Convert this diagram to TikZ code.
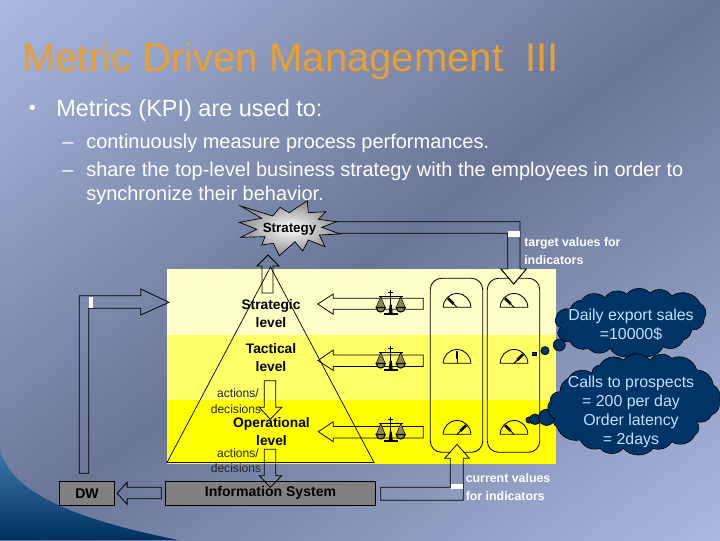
\documentclass[tikz,border=0pt]{standalone}
\usepackage{fontspec}
\usepackage{tikz}
\usetikzlibrary{calc}
\setmainfont{Liberation Sans}

\definecolor{bglight}{HTML}{A9B9E3}
\definecolor{bgdark}{HTML}{6A7596}
\definecolor{swooshtop}{HTML}{3F78AC}
\definecolor{swooshlow}{HTML}{00305F}
\definecolor{titleorange}{HTML}{E9A02E}
\definecolor{bandone}{HTML}{FFFFC8}
\definecolor{bandtwo}{HTML}{FFFF66}
\definecolor{bandthree}{HTML}{FFFF00}
\definecolor{cloudblue}{HTML}{003366}
\definecolor{cloudtext}{HTML}{C4E0FF}
\definecolor{panbrown}{HTML}{8C8A50}

\tikzset{
    blockarrow/.style={draw=black, line width=0.55pt, line join=miter},
    bodytext/.style={anchor=base west, text=white, inner sep=0pt},
    leveltext/.style={align=center, inner sep=0pt, font=\fontsize{9.8}{12.2}\selectfont\bfseries},
    decisiontext/.style={align=center, inner sep=0pt, text=black!85, font=\fontsize{8.6}{11}\selectfont},
    grapbox/.style={draw=black, fill=black!50, line width=0.6pt, inner sep=0pt, minimum height=0.6cm, font=\fontsize{10}{12}\selectfont\bfseries},
    notetext/.style={anchor=west, align=left, inner sep=0pt, text=white, font=\fontsize{8.8}{12.8}\selectfont\bfseries},
    cloudtxt/.style={align=center, inner sep=0pt, text=cloudtext},
    thought/.style={draw=black, fill=cloudblue, line width=0.4pt},
    whitepatch/.style={fill=white}
}

\newcommand{\balance}[2]{
    \begin{scope}[shift={(#1,#2)}]
        \fill[panbrown] (-10,-6) -- (-14.5,5) -- (-5.5,5) -- cycle (10,-6) -- (14.5,5) -- (5.5,5) -- cycle;
        \draw[line width=1pt] (-12,-6) -- (12,-6);
        \draw[line width=1.1pt] (0,-13) -- (0,11);
        \draw[line width=0.7pt] (-2.5,-10.5) -- (2.5,-10.5);
        \fill (-7,12.5) rectangle (7,10.5);
        \fill (-2,11) -- (-1,2) -- (1,2) -- (2,11) -- cycle;
        \draw[line width=0.4pt] (-10,-6) -- (-14.5,5) (-10,-6) -- (-5.5,5) (10,-6) -- (14.5,5) (10,-6) -- (5.5,5);
        \draw[fill=panbrown, line width=0.8pt] (-14.5,5) .. controls (-14,11) and (-6,11) .. (-5.5,5) -- cycle;
        \draw[fill=panbrown, line width=0.8pt] (5.5,5) .. controls (6,11) and (14,11) .. (14.5,5) -- cycle;
    \end{scope}
}

\begin{document}
\begin{tikzpicture}[x=0.025cm, y=-0.025cm]
    \useasboundingbox (0,0) rectangle (720,540);
    % diagonal background, strip by strip
    \clip (0,0) rectangle (720,540);
    \foreach \i in {0,...,143} {
        \pgfmathsetmacro{\mixval}{100*abs(\i+0.5-72)/72}
        \colorlet{stripcol}{bglight!\mixval!bgdark}
        \fill[stripcol] ($(360,270)+(-864*0.8,{(\i*6-432)*0.8})+({(\i*6-432)*0.6},864*0.6)$)
            -- ($(360,270)+(864*0.8,{(\i*6-432)*0.8})+({(\i*6-432)*0.6},-864*0.6)$)
            -- ($(360,270)+(864*0.8,{(\i*6-432+7)*0.8})+({(\i*6-432+7)*0.6},-864*0.6)$)
            -- ($(360,270)+(-864*0.8,{(\i*6-432+7)*0.8})+({(\i*6-432+7)*0.6},864*0.6)$) -- cycle;
    }
    \shade[top color=swooshtop, bottom color=swooshlow] (0,450) .. controls (12,495) and (80,520) .. (178,540) -- (0,540) -- cycle;

    % title and bullets
    \node[bodytext, text=titleorange, font=\fontsize{28.5}{32}\selectfont] (title) at (22,71.5) {Metric Driven Management\ \ III};
    \node[bodytext, font=\fontsize{14}{16}\selectfont] (bullet) at (28.5,114.5) {•};
    \node[bodytext, font=\fontsize{16.7}{20}\selectfont] (metrics) at (56,116.5) {Metrics (KPI) are used to:};
    \node[bodytext, font=\fontsize{14.2}{17}\selectfont] (dashone) at (62,148) {–};
    \node[bodytext, font=\fontsize{14.2}{17}\selectfont] (lineone) at (86,148) {continuously measure process performances.};
    \node[bodytext, font=\fontsize{14.2}{17}\selectfont] (dashtwo) at (62,176) {–};
    \node[bodytext, font=\fontsize{14.2}{17}\selectfont] (linetwo) at (86,176) {share the top-level business strategy with the employees in order to};
    \node[bodytext, font=\fontsize{14.2}{17}\selectfont] (linethree) at (86,200) {synchronize their behavior.};

    % levels
    \fill[bandone] (167,269) rectangle (556,335);
    \fill[bandtwo] (167,335) rectangle (556,400);
    \fill[bandthree] (167,400) rectangle (556,464);
    \draw[line width=0.5pt] (270.5,267) -- (374,462.5) -- (167,462.5) -- cycle;

    % indicator columns
    \draw[line width=0.6pt, rounded corners=0.28cm] (430.3,278.3) rectangle (482.7,452.3);
    \draw[line width=0.6pt, rounded corners=0.28cm] (487.3,278.3) rectangle (539.7,452.3);
    \foreach \gx/\gy/\ga in {457/307.3/135, 514/307.3/135, 457/363.3/90, 514/363.3/45, 457/434.3/45, 514/434.3/135} {
        \draw[line width=0.6pt] (\gx-13.8,\gy) arc[start angle=180, end angle=0, radius=0.345cm] -- cycle;
        \draw[line width=0.7pt] (\gx,\gy) -- ++(\ga:0.29cm);
        \draw[line width=1.9pt] (\gx,\gy) ++(\ga:0.12cm) -- ++(\ga:0.2cm);
    }

    % block arrows
    \draw[blockarrow] (262,293) -- (262,266) -- (257,266) -- (268,255) -- (279,266) -- (273,266) -- (273,293) -- cycle;
    \draw[blockarrow] (79.3,473.3) -- (79.3,295.7) -- (140.7,295.7) -- (140.7,289) -- (169,302.3) -- (140.7,315) -- (140.7,308.3) -- (88.7,308.3) -- (88.7,473.3) -- cycle;
    \fill[whitepatch] (88.5,297) rectangle (93,308);
    \draw[blockarrow] (423.3,298.3) -- (333.3,298.3) -- (333.3,294) -- (317.7,304) -- (333.3,314.3) -- (333.3,309.3) -- (423.3,309.3) -- cycle;
    \draw[blockarrow] (423.3,355) -- (333.3,355) -- (333.3,350) -- (318,360.5) -- (333.3,370.5) -- (333.3,366.5) -- (423.3,366.5) -- cycle;
    \draw[blockarrow] (423.3,426.5) -- (333.3,426.5) -- (333.3,421.7) -- (318.3,431.7) -- (333.3,441.7) -- (333.3,438) -- (423.3,438) -- cycle;
    \draw[blockarrow] (264.3,380.7) -- (264.3,407.3) -- (259.3,407.3) -- (270.3,419.3) -- (281.7,407.3) -- (275.7,407.3) -- (275.7,380.7) -- cycle;

    \balance{390.7}{302.5}
    \balance{390.7}{358.5}
    \balance{390.7}{429.5}

    % boxes below
    \node[grapbox, minimum width=1.385cm] (dw) at (87,493.3) {DW};
    \node[grapbox, minimum width=5.26cm] (infosys) at (270.5,493.3) {Information System};
    \draw[blockarrow] ($(infosys.west)+(-3.6,-6)$) -- ($(dw.east)+(12,-6)$) -- ($(dw.east)+(12,-11)$) -- ($(dw.east)+(2,0)$) -- ($(dw.east)+(12,11)$) -- ($(dw.east)+(12,5.5)$) -- ($(infosys.west)+(-3.6,5.5)$) -- cycle;
    \draw[blockarrow] (264.3,449.3) -- (264.3,475.7) -- (259.3,475.7) -- (270.3,487.3) -- (281.7,475.7) -- (275.7,475.7) -- (275.7,449.3) -- cycle;

    % strategy star
    \path[draw=black, line width=0.5pt, inner color=white, outer color=black!45]
        (240.7,206) -- (272.7,216) -- (280,207.3) -- (289.3,212.7) -- (307.3,200.7) -- (308.3,212.7)
        -- (326,211.7) -- (318.3,219.3) -- (336.7,221.7) -- (321.7,227.3) -- (340,234) -- (319.3,235)
        -- (325,246.7) -- (308.3,240) -- (302.7,251) -- (295,241.7) -- (279.3,255.7) -- (273.3,243.3)
        -- (261.7,245) -- (265,236.7) -- (240.7,237.3) -- (256.7,229.3) -- (239.3,222.3) -- (261.7,218.3) -- cycle;
    \node[leveltext, font=\fontsize{9.5}{12}\selectfont\bfseries] (strategy) at (289.5,229) {Strategy};

    % target and current arrows
    \draw[blockarrow] (336,221.7) -- (520,221.7) -- (520,269) -- (526.3,269) -- (513.7,284) -- (501,269) -- (507.7,269) -- (507.7,233.3) -- (338,233.3);
    \fill[bandone] (502.5,269.6) -- (525,269.6) -- (513.7,283) -- cycle;
    \draw[blockarrow] (501,269) -- (513.7,284) -- (526.3,269);
    \fill[whitepatch] (507.9,231) rectangle (520,236.5);
    \fill[bandthree] (446,457.8) -- (468,457.8) -- (457,445) -- cycle;
    \draw[blockarrow] (380.7,487.3) -- (450.3,487.3) -- (450.3,458.3) -- (444.7,458.3) -- (457,444.3) -- (469.3,458.3) -- (463.3,458.3) -- (463.3,500.3) -- (380.7,500.3) -- cycle;
    \fill[whitepatch] (450.7,484) rectangle (463.3,489.3);
    \node[notetext] (target) at (524,251) {target values for\\indicators};
    \node[notetext] (current) at (465.5,487.5) {current values\\for indicators};

    % labels on the pyramid
    \node[leveltext] (strategic) at (271,313.5) {Strategic\\level};
    \node[leveltext] (tactical) at (271,357.5) {Tactical\\level};
    \node[leveltext] (operational) at (271.5,431.5) {Operational\\level};
    \node[decisiontext] (actionsa) at (236,401) {\hspace*{0.1cm}actions/\\decisions};
    \node[decisiontext] (actionsb) at (236,460.5) {\hspace*{0.1cm}actions/\\decisions};

    % thought clouds
    \draw[thought] (534,353.7) +(-1.8,-1.8) rectangle +(1.8,1.8);
    \draw[thought] (545,350.7) circle (4.2);
    \draw[thought] (559.3,345) circle (6);
    \draw[thought] (529,420) circle (3.2);
    \draw[thought] (535,419.3) circle (5.5);
    \draw[thought] (546.7,417.3) circle (8.2);
    \draw[thought] (555.7,318.3) to[bend left=50] (570,309) to[bend left=30] (581.7,300) to[bend left=50] (605,297.7) to[bend left=50] (626.7,294.3)
        to[bend left=50] (650,293) to[bend left=50] (671.7,296) to[bend left=50] (700,303.3) to[bend left=50] (704.3,318.3) to[bend left=50] (691.7,330)
        to[bend left=30] (683.3,340) to[bend left=50] (663.3,346.7) to[bend left=50] (635,353.3) to[bend left=50] (610,348.3) to[bend left=50] (588.3,348.3)
        to[bend left=40] (570,341.7) to[bend left=40] (558.3,335) to[bend left=60] (561.7,327.7) to[bend left=60] cycle;
    \draw[thought] (550,401.7) to[bend left=50] (560,391.7) to[bend left=30] (568.3,378.3) to[bend left=50] (591.7,373.3) to[bend left=40] (600,365)
        to[bend left=50] (623.3,360) to[bend left=50] (650,360) to[bend left=50] (671.7,358.3) to[bend left=50] (696.7,370) to[bend left=40] (713.3,385)
        to[bend left=40] (719.3,401.7) to[bend left=40] (711.7,415) to[bend left=40] (696.7,421.7) to[bend left=50] (695,435) to[bend left=50] (671.7,441.7)
        to[bend left=40] (653.3,448.3) to[bend left=50] (623.3,448.3) to[bend left=50] (600,448.3) to[bend left=40] (580,440) to[bend left=40] (556.7,426.7)
        to[bend left=60] (555,418.3) to[bend left=60] cycle;
    \node[cloudtxt, font=\fontsize{11.3}{13.5}\selectfont] (daily) at (631,324.5) {Daily export sales\\=10000\$};
    \node[cloudtxt, font=\fontsize{11.3}{13.6}\selectfont] (calls) at (631,412) {Calls to prospects\\= 200 per day\\Order latency\\= 2days};
\end{tikzpicture}
\end{document}
